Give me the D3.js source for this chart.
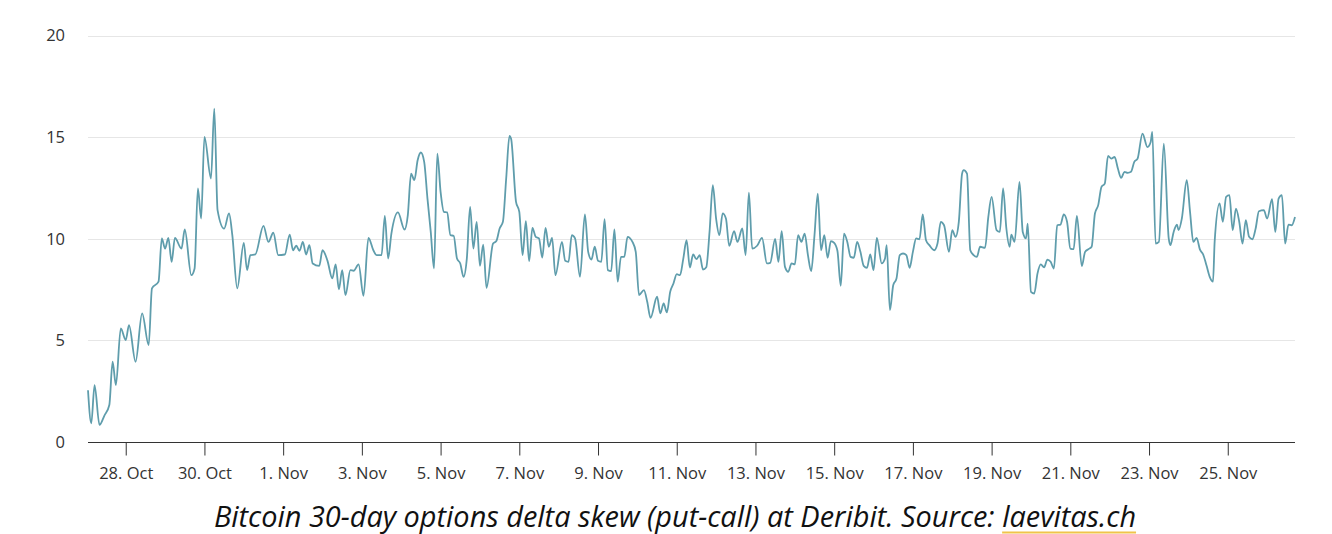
<!DOCTYPE html>
<html>
<head>
<meta charset="utf-8">
<script src="https://cdn.jsdelivr.net/npm/d3@7"></script>
<style>
  html, body { margin: 0; padding: 0; background: #ffffff; }
  svg { display: block; }
</style>
</head>
<body>
<svg id="chart" width="1332" height="534"></svg>
<script>
// ---------------- data ----------------
const startTime = "2021-10-27T00:00:00Z";
// hours since startTime
const hoursSinceStart = [
  1, 3, 5, 8, 11, 14, 16, 18, 21, 24,
  26, 30, 34, 38, 40, 44, 46, 48, 50, 52,
  54, 58, 60, 64, 66, 68, 70, 72, 76, 78,
  80, 84, 87, 89, 92, 96, 98, 100, 103, 108,
  111, 114, 117, 121, 124, 126, 128, 130, 132, 134,
  136, 138, 142, 144, 147, 150, 152, 154, 156, 158,
  161, 163, 166, 169, 172, 175, 177, 180, 182, 184,
  186, 190, 194, 196, 198, 200, 202, 204, 206, 208,
  210, 212, 214, 216, 218, 220, 222, 224, 226, 228,
  230, 232, 234, 236, 238, 240, 242, 244, 248, 250,
  252, 254, 256, 258, 259, 262, 264, 266, 268, 270,
  272, 274, 276, 278, 280, 282, 284, 286, 290, 292,
  294, 296, 298, 301, 304, 306, 308, 310, 312, 314,
  316, 318, 320, 322, 324, 326, 328, 330, 333, 335,
  337, 340, 342, 344, 348, 350, 352, 354, 356, 358,
  360, 362, 364, 366, 368, 370, 372, 374, 376, 378,
  380, 382, 384, 386, 388, 390, 392, 395, 397, 400,
  402, 404, 406, 409, 412, 415, 417, 420, 422, 424,
  426, 428, 430, 432, 434, 436, 438, 440, 442, 444,
  446, 448, 450, 452, 454, 456, 458, 460, 462, 464,
  466, 468, 470, 472, 474, 476, 478, 480, 482, 485,
  487, 488, 490, 492, 494, 496, 498, 500, 502, 504,
  506, 508, 510, 512, 514, 517, 519, 521, 523, 526,
  528, 530, 532, 534, 535, 537, 539, 541, 543, 545,
  548, 550, 552, 555, 557, 559, 561, 563, 564, 566,
  569, 571, 573, 574, 576, 578, 580, 582, 584, 586,
  588, 590, 592, 594, 596, 598, 600, 602, 604, 607,
  609, 611, 613, 615, 617, 619, 621, 623, 625, 627,
  629, 631, 633, 635, 637, 639, 641, 644, 647, 649,
  650, 652, 654, 657, 660, 661, 663, 665, 666, 668,
  671, 673, 675, 677, 679, 681, 683, 685, 687, 688,
  691, 693, 695, 697, 699, 701, 703, 705, 707, 709,
  711, 713, 715, 718, 720, 723, 725, 727, 729, 731,
  733, 735, 737
];
// 30-day delta skew (put - call), vol points
const skewValues = [
  2.55, 0.92, 2.80, 0.84, 1.30, 1.82, 3.95, 2.80, 5.59, 5.02,
  5.75, 3.95, 6.33, 4.77, 7.56, 7.89, 10.02, 9.52, 10.05, 8.87,
  10.05, 9.52, 10.46, 8.21, 8.54, 12.48, 11.00, 15.02, 12.97, 16.41,
  11.41, 10.50, 11.25, 10.18, 7.56, 9.80, 8.46, 9.20, 9.23, 10.64,
  9.85, 10.30, 9.20, 9.23, 10.21, 9.44, 9.66, 9.41, 9.85, 9.23,
  9.69, 8.79, 8.67, 9.44, 8.93, 8.05, 8.74, 7.52, 8.46, 7.23,
  8.46, 8.43, 8.74, 7.20, 10.05, 9.44, 9.20, 9.20, 11.13, 9.03,
  10.26, 11.30, 10.46, 11.16, 13.21, 12.89, 13.87, 14.25, 13.79, 11.98,
  10.34, 8.54, 14.20, 12.31, 11.33, 11.30, 10.18, 10.15, 9.03, 8.79,
  8.13, 9.03, 11.57, 9.52, 10.84, 8.67, 9.72, 7.59, 9.77, 9.89,
  10.51, 10.84, 12.97, 15.07, 14.93, 11.82, 11.33, 9.20, 10.87, 8.90,
  10.54, 10.10, 10.02, 9.08, 10.54, 9.61, 10.05, 8.21, 9.85, 8.92,
  8.87, 10.18, 10.02, 8.13, 11.20, 9.36, 8.98, 9.61, 8.92, 8.87,
  10.97, 8.46, 8.41, 10.46, 7.89, 9.11, 9.11, 10.10, 9.85, 9.36,
  7.23, 7.48, 6.90, 6.11, 7.15, 6.33, 6.82, 6.38, 7.39, 7.80,
  8.26, 8.21, 9.03, 9.93, 8.59, 9.23, 9.00, 9.20, 8.49, 8.60,
  10.34, 12.64, 11.00, 10.18, 11.25, 11.00, 9.65, 10.38, 9.85, 10.51,
  9.20, 12.28, 9.52, 9.66, 10.05, 8.79, 8.82, 10.00, 8.87, 10.38,
  8.62, 8.38, 8.79, 8.74, 10.18, 9.85, 10.26, 9.20, 8.41, 10.18,
  12.23, 9.44, 10.18, 9.07, 9.89, 9.80, 9.40, 7.69, 10.26, 9.85,
  9.11, 9.07, 9.85, 9.36, 8.67, 8.57, 9.23, 8.46, 10.05, 8.79,
  9.03, 9.69, 6.49, 7.72, 8.05, 9.20, 9.28, 9.20, 8.57, 9.36,
  10.02, 9.98, 11.20, 9.93, 9.69, 9.44, 9.77, 10.84, 10.67, 9.36,
  10.43, 10.10, 10.84, 13.21, 13.38, 13.21, 9.44, 9.20, 9.11, 9.61,
  9.56, 11.08, 12.07, 10.43, 10.34, 12.48, 10.51, 9.61, 10.21, 9.85,
  12.80, 10.34, 10.02, 10.75, 7.39, 7.31, 8.30, 8.74, 8.60, 8.98,
  8.87, 8.54, 10.67, 10.70, 11.20, 10.84, 9.52, 9.49, 11.13, 8.66,
  9.36, 9.49, 9.61, 11.25, 11.66, 12.56, 12.72, 14.08, 13.95, 14.03,
  13.46, 13.00, 13.30, 13.25, 13.30, 13.79, 13.95, 15.18, 14.52, 14.77,
  15.26, 9.77, 9.85, 14.69, 10.02, 9.69, 10.34, 10.70, 10.43, 11.00,
  12.89, 11.33, 9.85, 10.05, 9.48, 9.23, 8.70, 8.13, 7.89, 9.85,
  11.74, 10.84, 12.07, 12.15, 10.43, 11.49, 10.84, 9.77, 10.92, 10.10,
  9.98, 10.51, 11.36, 11.41, 11.00, 11.95, 10.34, 11.98, 12.15, 9.77,
  10.70, 10.67, 11.08
];
const yTickValues = [0, 5, 10, 15, 20];
const xTickDates = [
  "2021-10-28", "2021-10-30", "2021-11-01", "2021-11-03", "2021-11-05",
  "2021-11-07", "2021-11-09", "2021-11-11", "2021-11-13", "2021-11-15",
  "2021-11-17", "2021-11-19", "2021-11-21", "2021-11-23", "2021-11-25"
];
const captionMain = "Bitcoin 30-day options delta skew (put-call) at Deribit. Source: ";
const captionSource = "laevitas.ch";

// ---------------- drawing ----------------
const t0 = Date.parse(startTime);
const series = hoursSinceStart.map((h, i) => ({ date: new Date(t0 + h * 3600e3), value: skewValues[i] }));

const plot = { left: 88, right: 1295, top: 35.7, bottom: 442 };
const svg = d3.select("#chart");
svg.append("rect").attr("width", 1332).attr("height", 534).attr("fill", "#ffffff");

const x = d3.scaleUtc().domain(d3.extent(series, d => d.date)).range([plot.left, plot.right]);
const y = d3.scaleLinear().domain([0, 20]).range([plot.bottom, plot.top]);

const fontFamily = "'Open Sans', 'Noto Sans', sans-serif";

// gridlines
svg.append("g")
  .selectAll("line")
  .data(yTickValues)
  .join("line")
  .attr("x1", plot.left).attr("x2", plot.right)
  .attr("y1", d => Math.round(y(d)) + 0.5).attr("y2", d => Math.round(y(d)) + 0.5)
  .attr("stroke", "#e6e6e6").attr("stroke-width", 1);

// y axis labels
const yAxis = svg.append("g")
  .attr("transform", `translate(${plot.left},0)`)
  .call(d3.axisLeft(y).tickValues(yTickValues).tickSize(0).tickPadding(23));
yAxis.select(".domain").remove();
yAxis.selectAll("text")
  .attr("font-family", fontFamily).attr("font-size", 16.5).attr("fill", "#333333");

// line
const line = d3.line()
  .x(d => x(d.date))
  .y(d => y(d.value))
  .curve(d3.curveMonotoneX);
svg.append("path")
  .datum(series)
  .attr("d", line)
  .attr("fill", "none")
  .attr("stroke", "#5f9dac")
  .attr("stroke-width", 1.8)
  .attr("stroke-linejoin", "round");

// x axis
const xAxis = svg.append("g")
  .attr("transform", `translate(0,${Math.round(plot.bottom) + 0.5})`)
  .call(d3.axisBottom(x)
    .tickValues(xTickDates.map(s => new Date(s + "T00:00:00Z")))
    .tickFormat(d3.utcFormat("%-d. %b"))
    .tickSize(13).tickSizeOuter(0).tickPadding(12));
xAxis.select(".domain").attr("stroke", "#333333").attr("stroke-width", 1)
  .attr("d", `M${plot.left},0H${plot.right}`);
xAxis.selectAll(".tick line").attr("stroke", "#333333");
xAxis.selectAll("text")
  .attr("font-family", fontFamily).attr("font-size", 16.5).attr("fill", "#333333");

// caption
const cap = svg.append("text")
  .attr("x", 675).attr("y", 527)
  .attr("text-anchor", "middle")
  .attr("font-family", fontFamily)
  .attr("font-style", "italic")
  .attr("font-size", 28.9)
  .attr("fill", "#111111");
cap.append("tspan").text(captionMain);
cap.append("tspan").text(captionSource);

const capNode = cap.node();
const startIdx = captionMain.length;
const endIdx = captionMain.length + captionSource.length - 1;
const ux1 = capNode.getStartPositionOfChar(startIdx).x;
const ux2 = capNode.getEndPositionOfChar(endIdx).x;
svg.append("line")
  .attr("x1", ux1).attr("x2", ux2)
  .attr("y1", 532.5).attr("y2", 532.5)
  .attr("stroke", "#f0c44a").attr("stroke-width", 2.2);
</script>
</body>
</html>
